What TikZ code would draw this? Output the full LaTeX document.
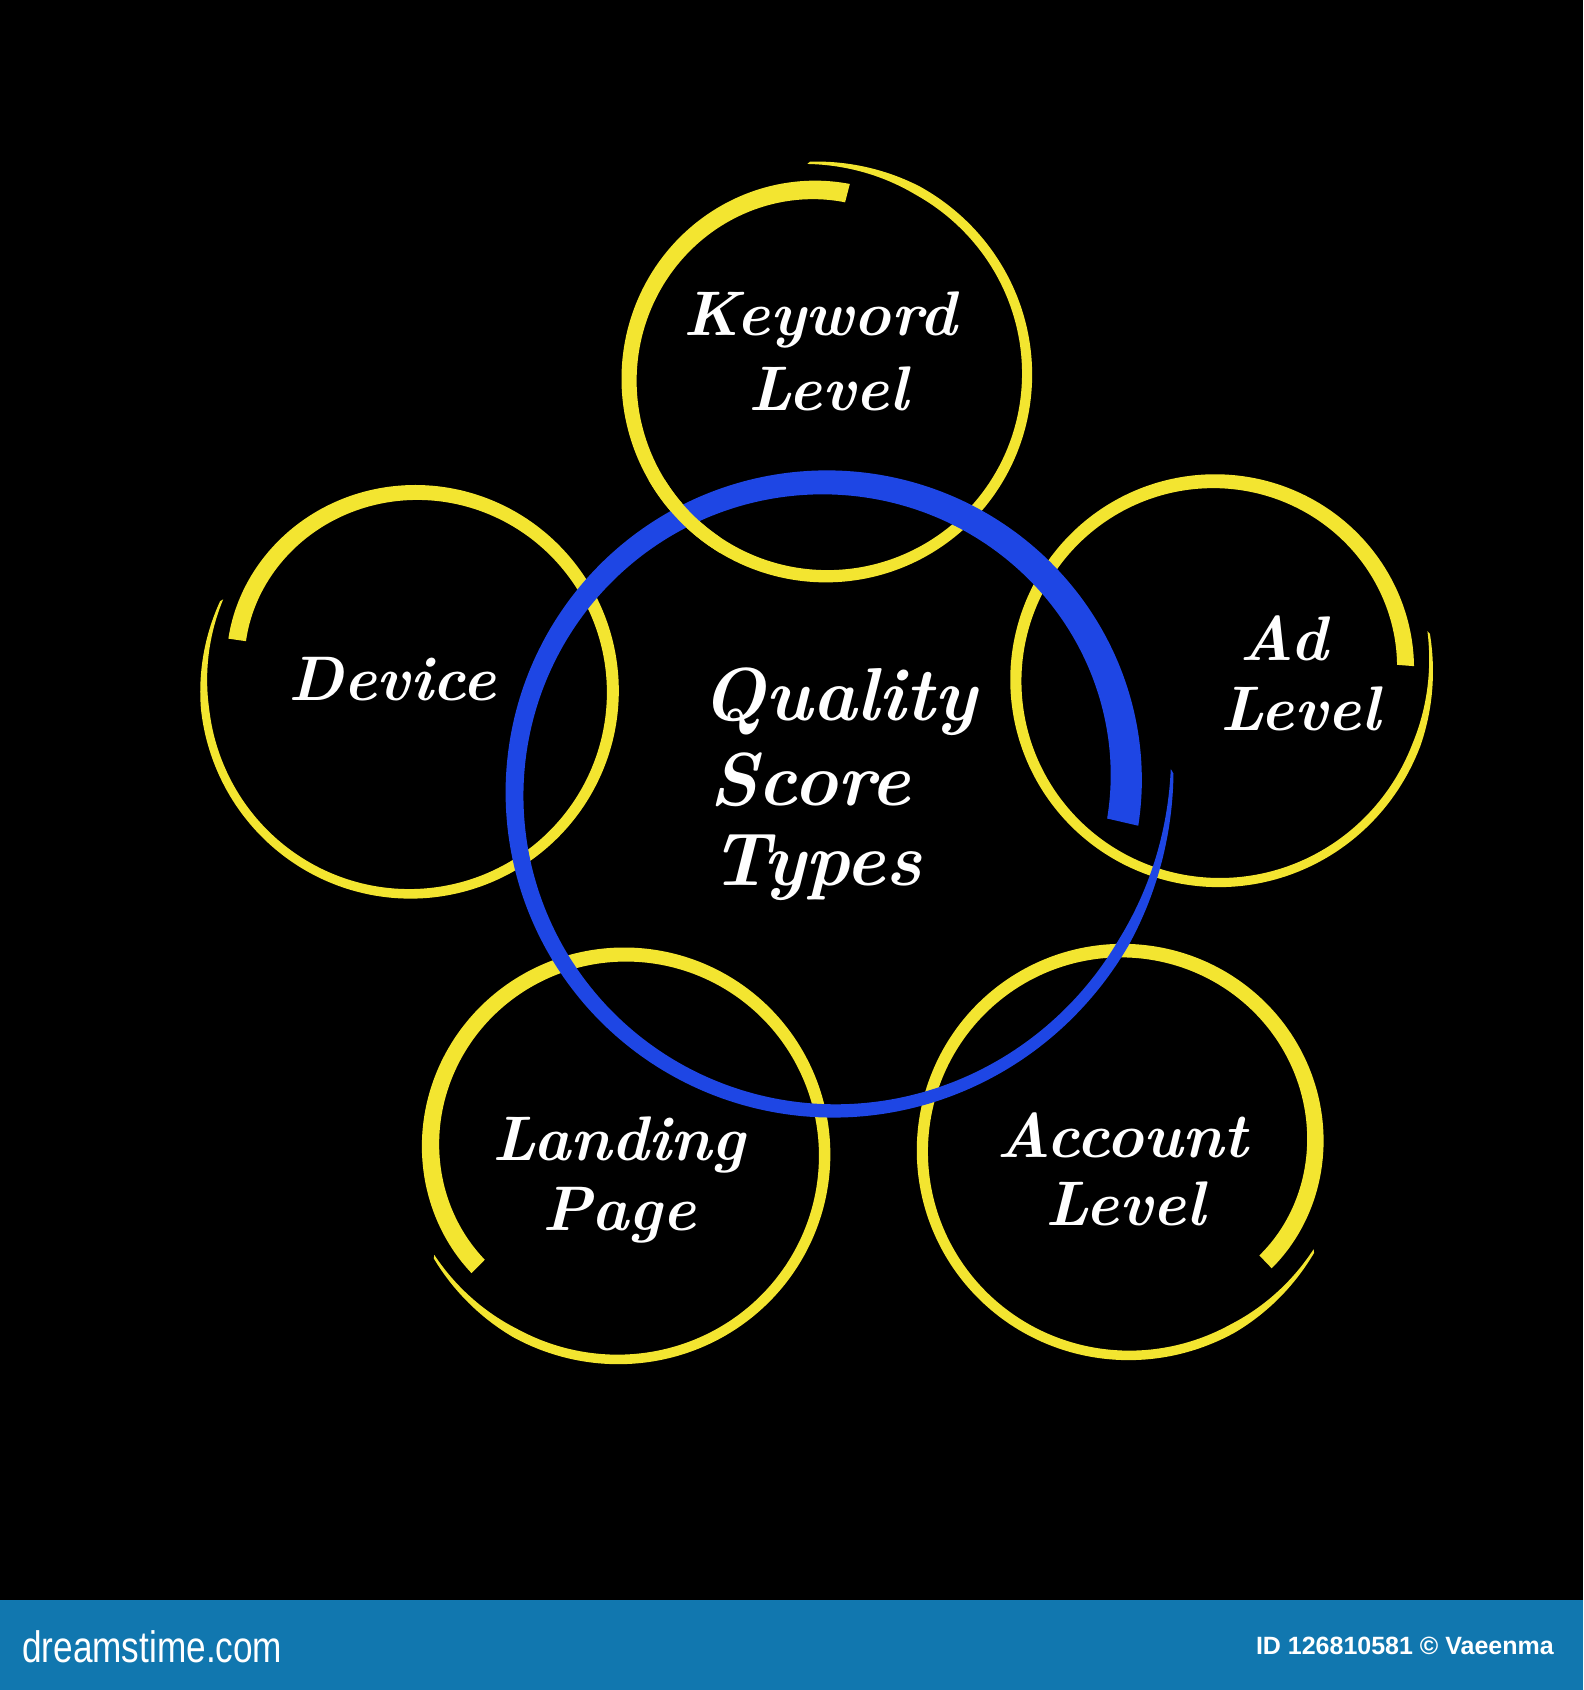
\documentclass[tikz,border=0pt]{standalone}
\usepackage{fontspec}
\newfontfamily\bannerfont{Liberation Sans}
\definecolor{yel}{RGB}{243,229,48}
\definecolor{blu}{RGB}{30,70,228}
\definecolor{ban}{RGB}{17,119,175}
% #1 cx, #2 cy, #3 R, #4 start angle, #5 sweep, #6 inward start offset, #7 outward tail offset, #8 start width, #9 end width
\newcommand\brushring[9]{%
  \begin{scope}[declare function={rr(\s)=#3-#6*(1-\s)^8+#7*\s^6; ww(\s)=(#9+(#8-#9)*(1-\s)^1.6)*min(1,0.25+(1-\s)*9);}]
    \fill plot[domain=0:1,samples=320,variable=\u]
      ({#1+(rr(\u)+ww(\u)/2)*cos((#4)+(#5)*\u)},{#2-(rr(\u)+ww(\u)/2)*sin((#4)+(#5)*\u)})
      -- plot[domain=1:0,samples=320,variable=\u]
      ({#1+(rr(\u)-ww(\u)/2)*cos((#4)+(#5)*\u)},{#2-(rr(\u)-ww(\u)/2)*sin((#4)+(#5)*\u)})
      -- cycle;
  \end{scope}}
\begin{document}
\begin{tikzpicture}[x=1pt,y=-1pt,
  lbl/.style={text=white,inner sep=0pt,anchor=base,font=\fontsize{63}{70}\selectfont\bfseries\itshape},
  biglbl/.style={lbl,font=\fontsize{75}{80}\selectfont\bfseries\itshape},
  bantext/.style={text=white,inner sep=0pt,anchor=base}]
\useasboundingbox (0,0) rectangle (1583,1690);
\fill[black] (0,0) rectangle (1583,1600);
\fill[ban] (0,1600) rectangle (1583,1690);

% yellow rings
\begin{scope}[fill=yel]
  \brushring{826}{378}{198}{83}{372}{12}{18}{19}{9}     % Keyword
  \brushring{411}{691}{202}{164}{-370}{21}{8}{18}{8}    % Device
  \brushring{1216}{680}{200}{4}{369}{10}{18}{17}{8}     % Ad
  \brushring{624}{1154}{200}{218}{-370}{16}{16}{19}{9}  % Landing
  \brushring{1123}{1150}{200}{-38.5}{371}{19}{16}{18}{9}% Account
\end{scope}
% blue ring
\begin{scope}[fill=blu]
  \brushring{827}{793}{312}{-6}{370}{15}{34}{32}{11}
\end{scope}
% yellow over blue at left crossing of Keyword ring
\begin{scope}
  \clip (640,480) rectangle (720,560);
  \begin{scope}[fill=yel]
    \brushring{826}{378}{198}{83}{372}{12}{18}{19}{9}
  \end{scope}
\end{scope}

% labels
\node[lbl] (kw1) at (820,335) {Keyword};
\node[lbl] (kw2) at (828,410) {Level};
\node[biglbl] (q1) at (839,720) {Quality};
\node[biglbl] (q2) at (810,805) {Score};
\node[biglbl] (q3) at (816,885) {Types};
\node[lbl] (dev) at (392,700) {Device};
\node[lbl] (ad1) at (1284,660) {Ad};
\node[lbl] (ad2) at (1300,730) {Level};
\node[lbl] (lp1) at (619,1160) {Landing};
\node[lbl] (lp2) at (619,1230) {Page};
\node[lbl] (ac1) at (1122,1157) {Account};
\node[lbl] (ac2) at (1125,1225) {Level};

% banner
\node[bantext,anchor=base west,xscale=0.8,font=\fontsize{44}{50}\selectfont\bannerfont] (logo) at (22,1662) {dreamstime.com};
\node[bantext,anchor=base east,font=\fontsize{25}{30}\selectfont\bannerfont\bfseries] (id) at (1554,1654) {ID 126810581 © Vaeenma};
\end{tikzpicture}
\end{document}
